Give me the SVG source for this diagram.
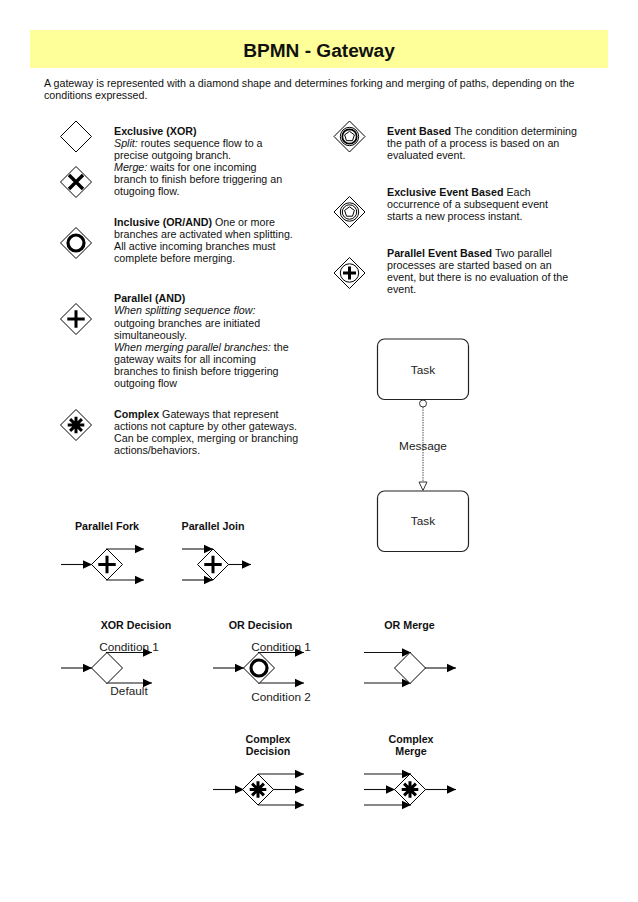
<svg xmlns="http://www.w3.org/2000/svg" xmlns:xlink="http://www.w3.org/1999/xlink" width="638" height="902" viewBox="0 0 638 902">
<style>
text{font-family:"Liberation Sans",Arial,sans-serif;font-size:10.7px;fill:#111}
.b{font-weight:bold}.i{font-style:italic}
.c{text-anchor:middle}
.l{font-size:11.8px;fill:#222}
.d{fill:#fff;stroke:#000;stroke-width:1}
.t{fill:none;stroke:#000;stroke-width:3}
.o{fill:none;stroke:#000;stroke-width:1}
.f{fill:none;stroke:#111;stroke-width:1.1;marker-end:url(#a)}
</style>
<defs>
<marker id="a" markerUnits="userSpaceOnUse" markerWidth="10" markerHeight="10" refX="9" refY="5" orient="auto"><path d="M0 0.8L9 5L0 9.2Z" fill="#000"/></marker>
<polygon id="dm" class="d" points="0,-15.5 15.500,0 0,15.500 -15.500,0"/>
<path id="plus" class="t" d="M-8.700 0H8.700M0 -8.700V8.700"/>
<path id="star" d="M0 -8.300V8.300M-8.300 0H8.300M-5.900 -5.900L5.900 5.900M-5.900 5.900L5.900 -5.900" fill="none" stroke="#000" stroke-width="3"/>
<polygon id="pent" class="o" points="0,-5.200 4.900,-1.600 3,4.200 -3,4.200 -4.900,-1.600"/>
</defs>
<rect id="header" x="30" y="30" width="578" height="38" fill="#ffff99"/>
<text x="319" y="57" class="b c" style="font-size:19.1px">BPMN - Gateway</text>
<text x="44" y="87">A gateway is represented with a diamond shape and determines forking and merging of paths, depending on the</text>
<text x="44" y="99">conditions expressed.</text>

<g id="xor-empty"><use xlink:href="#dm" x="76" y="136.500"/></g>
<g id="xor-x"><use xlink:href="#dm" x="76" y="182"/><path class="t" style="stroke-width:3.400" d="M69 175L83 189M83 175L69 189"/></g>
<g id="inclusive"><use xlink:href="#dm" x="76" y="243"/><circle cx="76" cy="243" r="8" fill="none" stroke="#000" stroke-width="3.200"/></g>
<g id="parallel"><use xlink:href="#dm" x="76" y="319"/><use xlink:href="#plus" x="76" y="319"/></g>
<g id="complex"><use xlink:href="#dm" x="76" y="425"/><use xlink:href="#star" x="76" y="425"/></g>

<g id="xor-text">
<text x="114" y="135" class="b">Exclusive (XOR)</text>
<text x="114" y="147"><tspan class="i">Split:</tspan> routes sequence flow to a</text>
<text x="114" y="159">precise outgoing branch.</text>
<text x="114" y="171"><tspan class="i">Merge:</tspan> waits for one incoming</text>
<text x="114" y="183">branch to finish before triggering an</text>
<text x="114" y="195">otugoing flow.</text>
</g>
<g id="inclusive-text">
<text x="114" y="226"><tspan class="b">Inclusive (OR/AND)</tspan> One or more</text>
<text x="114" y="238">branches are activated when splitting.</text>
<text x="114" y="250">All active incoming branches must</text>
<text x="114" y="262">complete before merging.</text>
</g>
<g id="parallel-text">
<text x="114" y="302" class="b">Parallel (AND)</text>
<text x="114" y="314" class="i">When splitting sequence flow:</text>
<text x="114" y="327">outgoing branches are initiated</text>
<text x="114" y="339">simultaneously.</text>
<text x="114" y="351"><tspan class="i">When merging parallel branches:</tspan> the</text>
<text x="114" y="363">gateway waits for all incoming</text>
<text x="114" y="375">branches to finish before triggering</text>
<text x="114" y="387">outgoing flow</text>
</g>
<g id="complex-text">
<text x="114" y="418"><tspan class="b">Complex</tspan> Gateways that represent</text>
<text x="114" y="430">actions not capture by other gateways.</text>
<text x="114" y="442">Can be complex, merging or branching</text>
<text x="114" y="454">actions/behaviors.</text>
</g>

<g id="event-based"><use xlink:href="#dm" x="349.500" y="136.500"/><circle cx="349.500" cy="136.500" r="9.200" class="o"/><circle cx="349.500" cy="136.500" r="7.200" fill="none" stroke="#000" stroke-width="1.800"/><use xlink:href="#pent" x="349.500" y="136.500"/></g>
<g id="exclusive-event"><use xlink:href="#dm" x="349.500" y="212"/><circle cx="349.500" cy="212" r="9.200" class="o"/><circle cx="349.500" cy="212" r="7.200" class="o"/><use xlink:href="#pent" x="349.500" y="212"/></g>
<g id="parallel-event"><use xlink:href="#dm" x="349.500" y="273"/><circle cx="349.500" cy="273" r="9.200" class="o"/><path class="t" d="M343 273H356M349.500 266.500V279.500"/></g>

<g id="event-based-text">
<text x="387" y="135"><tspan class="b">Event Based</tspan> The condition determining</text>
<text x="387" y="147">the path of a process is based on an</text>
<text x="387" y="159">evaluated event.</text>
</g>
<g id="exclusive-event-text">
<text x="387" y="196"><tspan class="b">Exclusive Event Based</tspan> Each</text>
<text x="387" y="208">occurrence of a subsequent event</text>
<text x="387" y="220">starts a new process instant.</text>
</g>
<g id="parallel-event-text">
<text x="387" y="257"><tspan class="b">Parallel Event Based</tspan> Two parallel</text>
<text x="387" y="269">processes are started based on an</text>
<text x="387" y="281">event, but there is no evaluation of the</text>
<text x="387" y="293">event.</text>
</g>

<g id="task1"><rect x="377.500" y="339" width="91" height="60.500" rx="7" fill="#fff" stroke="#222" stroke-width="1.200"/><text x="423" y="374" class="l c">Task</text></g>
<g id="task2"><rect x="377.500" y="491" width="91" height="60.500" rx="7" fill="#fff" stroke="#222" stroke-width="1.200"/><text x="423" y="525" class="l c">Task</text></g>
<g id="message">
<path d="M423 407V482" fill="none" stroke="#555" stroke-width="1" stroke-dasharray="1.500 1"/>
<circle cx="423" cy="403.500" r="3.500" fill="#fff" stroke="#333"/>
<polygon points="423,490.500 419,482 427,482" fill="#fff" stroke="#333"/>
<text x="423" y="450" class="l c">Message</text>
</g>

<g id="labels">
<text x="107" y="530" class="b c">Parallel Fork</text>
<text x="213" y="530" class="b c">Parallel Join</text>
<text x="136" y="629" class="b c">XOR Decision</text>
<text x="260.500" y="629" class="b c">OR Decision</text>
<text x="409.500" y="629" class="b c">OR Merge</text>
<text x="268" y="743" class="b c">Complex</text>
<text x="268" y="755" class="b c">Decision</text>
<text x="411" y="743" class="b c">Complex</text>
<text x="411" y="755" class="b c">Merge</text>
</g>

<g id="connectors">
<path class="f" d="M61 564.500H92"/><path class="f" d="M106 549H144"/><path class="f" d="M106 580H144"/>
<path class="f" d="M182 549H213"/><path class="f" d="M182 580H213"/><path class="f" d="M228 564.500H251"/>
<path class="f" d="M61 668H92"/><path class="f" d="M106 652.500H152"/><path class="f" d="M106 683H152"/>
<path class="f" d="M213 668H244"/><path class="f" d="M258 652.500H304"/><path class="f" d="M258 683H304"/>
<path class="f" d="M364 652.500H411"/><path class="f" d="M364 683H411"/><path class="f" d="M425 668H456"/>
<path class="f" d="M213 789.500H244"/><path class="f" d="M258 774H304"/><path class="f" d="M273 789.500H304"/><path class="f" d="M258 805H304"/>
<path class="f" d="M364 774H411"/><path class="f" d="M364 789.500H395"/><path class="f" d="M364 805H411"/><path class="f" d="M425 789.500H456"/>
</g>

<g id="parallel-fork"><use xlink:href="#dm" x="107" y="564.500"/><use xlink:href="#plus" x="107" y="564.500"/></g>
<g id="parallel-join"><use xlink:href="#dm" x="213" y="564.500"/><use xlink:href="#plus" x="213" y="564.500"/></g>
<g id="xor-decision"><use xlink:href="#dm" x="107" y="668"/></g>
<g id="or-decision"><use xlink:href="#dm" x="259" y="668"/><circle cx="259" cy="668" r="8" fill="none" stroke="#000" stroke-width="3.200"/></g>
<g id="or-merge"><use xlink:href="#dm" x="410" y="668"/></g>
<g id="complex-decision"><use xlink:href="#dm" x="258" y="789.500"/><use xlink:href="#star" x="258" y="789.500"/></g>
<g id="complex-merge"><use xlink:href="#dm" x="410" y="789.500"/><use xlink:href="#star" x="410" y="789.500"/></g>

<g id="flow-labels">
<text x="129" y="651" class="l c">Condition 1</text>
<text x="129" y="695" class="l c">Default</text>
<text x="281" y="651" class="l c">Condition 1</text>
<text x="281" y="701" class="l c">Condition 2</text>
</g>
</svg>
